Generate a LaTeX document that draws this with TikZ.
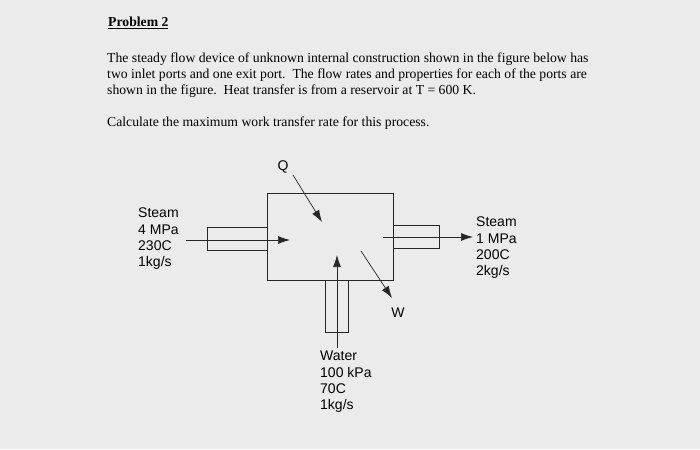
\documentclass[tikz,border=0pt]{standalone}
\usepackage{fontspec}
\usetikzlibrary{arrows.meta}
\setmainfont{Liberation Serif}
\newfontfamily\arialf{Liberation Sans}
\begin{document}
\begin{tikzpicture}[x=1pt,y=-1pt,
  para/.style={anchor=base west,inner sep=0pt,font=\fontsize{13.7}{16}\selectfont},
  lbl/.style={anchor=north west,inner sep=0pt,align=left,font=\arialf\fontsize{14}{16.3}\selectfont},
  pipe/.style={draw=black!85,line width=0.7pt},
  flow/.style={draw=black!85,line width=0.7pt,-{Latex[length=12pt,width=8pt]}}]
\useasboundingbox[fill=black!8] (0,0) rectangle (700,449);
\node[para,font=\bfseries\fontsize{13.7}{16}\selectfont] (title) at (108,27) {\underline{Problem 2}};
\node[para] (l1) at (107,63) {The steady flow device of unknown internal construction shown in the figure below has};
\node[para] (l2) at (107,79) {two inlet ports and one exit port.\ \ The flow rates and properties for each of the ports are};
\node[para] (l3) at (107,95) {shown in the figure.\ \ Heat transfer is from a reservoir at T = 600 K.};
\node[para] (l4) at (107,127) {Calculate the maximum work transfer rate for this process.};
% device
\draw[pipe] (267,193) rectangle (393,280);
\draw[pipe] (267,227) -- (207,227) -- (207,250) -- (267,250);
\draw[pipe] (393,225) -- (439,225) -- (439,248) -- (393,248);
\draw[pipe] (325,280) -- (325,332) -- (348,332) -- (348,280);
\coordinate (inL) at (186,240); \coordinate (inLe) at (290,240);
\coordinate (outS) at (383,237); \coordinate (outE) at (473,237);
\coordinate (inB) at (337,348); \coordinate (inBe) at (337,255);
\coordinate (qs) at (293,175); \coordinate (qe) at (322,222);
\coordinate (ws) at (361,251); \coordinate (we) at (392,298);
\draw[flow] (inL) -- (inLe);
\draw[flow] (outS) -- (outE);
\draw[flow] (inB) -- (inBe);
\draw[flow] (qs) -- (qe);
\draw[flow] (ws) -- (we);
\node[anchor=center,inner sep=0pt,font=\arialf\fontsize{14}{16}\selectfont] (Q) at (283,167) {Q};
\node[anchor=center,inner sep=0pt,font=\arialf\fontsize{14}{16}\selectfont] (W) at (398,313) {W};
\node[lbl] (left) at (138,208) {Steam\\4 MPa\\230C\\1kg/s};
\node[lbl] (right) at (476,217) {Steam\\1 MPa\\200C\\2kg/s};
\node[lbl] (water) at (320,351) {Water\\100 kPa\\70C\\1kg/s};
\end{tikzpicture}
\end{document}
